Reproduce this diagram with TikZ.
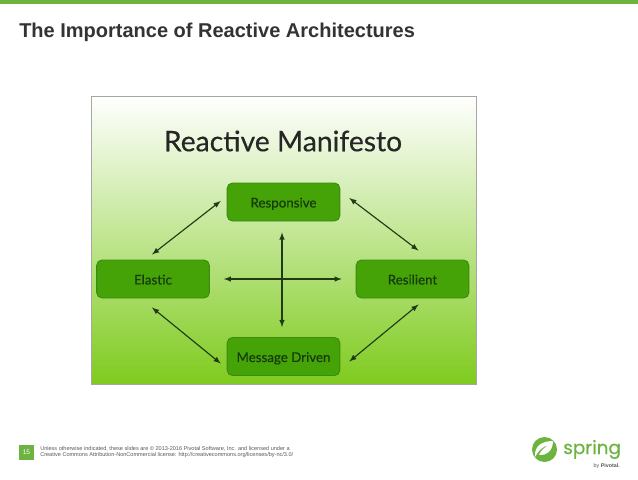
\documentclass[tikz,border=0pt]{standalone}
\usepackage{fontspec}
\setmainfont{Liberation Sans}
\newfontfamily\manifestofont[FakeBold=0.35]{Lato}
\newfontfamily\springfont[FakeBold=0.4]{Poppins}
\definecolor{springgreen}{HTML}{6DB33F}
\definecolor{panelbottom}{HTML}{7FCB1F}
\definecolor{boxgreen}{HTML}{45A308}
\definecolor{boxline}{HTML}{3C8A12}
\definecolor{boxtext}{HTML}{163A08}
\definecolor{arrowdark}{HTML}{1F3A14}
\tikzset{
    blockbox/.style={draw=boxline, line width=0.7pt, fill=boxgreen, rounded corners=4pt,
        minimum width=84.5pt, minimum height=28.5pt, inner sep=0pt,
        text height=8.2pt, text depth=0pt,
        text=boxtext, font=\manifestofont\fontsize{10}{12}\selectfont},
    linkarrow/.style={<->, >=latex, draw=arrowdark, line width=0.85pt}
}
\begin{document}
\begin{tikzpicture}[x=0.75pt, y=-0.75pt]
    \useasboundingbox (0,0) rectangle (638,479);
    \fill[white] (0,0) rectangle (638,479);

    % Top bar and title
    \fill[springgreen] (0,0) rectangle (638,3.5);
    \node[anchor=base west, inner sep=0pt, font=\bfseries\fontsize{15}{17}\selectfont, text=black!80] (title) at (19,37) {The Importance of Reactive Architectures};

    % Panel
    \shade[top color=white, bottom color=panelbottom] (91,96) rectangle (476,384);
    \draw[black!35, line width=0.7pt] (91,96) rectangle (476,384);
    \node[inner sep=0pt, font=\manifestofont\fontsize{21.2}{25}\selectfont, text=black!85] (manifesto) at (283,141) {Reactive Manifesto};

    % Blocks
    \node[blockbox] (responsive) at (283.5,202) {Responsive};
    \node[blockbox] (elastic) at (153,279) {Elastic};
    \node[blockbox] (resilient) at (412.5,279) {Resilient};
    \node[blockbox] (message) at (283.5,356.5) {Message Driven};

    % Outer arrows
    \draw[linkarrow] ([shift={(-1,-5)}]elastic.north) -- ([shift={(-6,-1)}]responsive.west);
    \draw[linkarrow] ([shift={(9,-4)}]responsive.east) -- ([shift={(6,-9)}]resilient.north);
    \draw[linkarrow] ([shift={(-1,9)}]elastic.south) -- ([shift={(-6,7)}]message.west);
    \draw[linkarrow] ([shift={(9,5)}]message.east) -- ([shift={(6,6)}]resilient.south);

    % Cross in the middle
    \draw[linkarrow] ([shift={(-1.5,11)}]responsive.south) -- ([shift={(-1.5,-10)}]message.north);
    \draw[linkarrow] ([xshift=14pt*0.75]elastic.east) -- ([xshift=-14pt*0.75]resilient.west);

    % Footer
    \fill[springgreen] (19,445) rectangle (34,460);
    \node[text=white, inner sep=0pt, font=\fontsize{5}{6}\selectfont] (pagenum) at (26.5,452.5) {15};
    \node[anchor=north west, inner sep=0pt, align=left, text=black!65, font=\fontsize{4.17}{5}\selectfont] (notice) at (40,446)
        {Unless otherwise indicated, these slides are © 2013-2016 Pivotal Software, Inc. and licensed under a\\
        Creative Commons Attribution-NonCommercial license: http://creativecommons.org/licenses/by-nc/3.0/};

    % Logo
    \fill[springgreen] (544.5,449.5) circle (12.5);
    \fill[white] (535,457) .. controls (534,446) and (542,441) .. (553,441) .. controls (553,451) and (546,456) .. (539,455) .. controls (541,450) and (545,447) .. (549,445) .. controls (543,446) and (538,451) .. (535,457);
    \node[anchor=base west, inner sep=0pt, text=springgreen, font=\springfont\fontsize{13.8}{16}\selectfont] (spring) at (563,454) {spring};
    \node[anchor=base east, inner sep=0pt, text=black!65, font=\fontsize{4}{5}\selectfont] (pivotal) at (620,467) {by \textbf{Pivotal.}};
\end{tikzpicture}
\end{document}
